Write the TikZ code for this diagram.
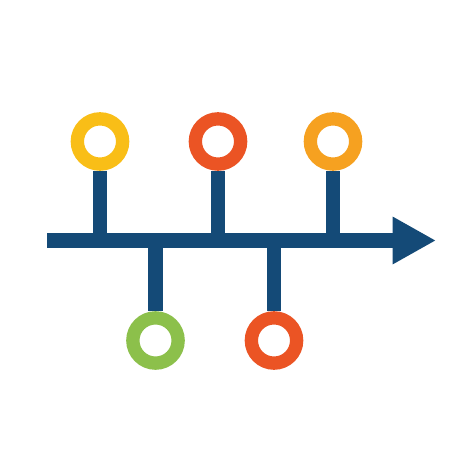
\documentclass[tikz,border=0pt]{standalone}
\usepackage{tikz}
\usetikzlibrary{arrows.meta}
\definecolor{navy}{HTML}{144A77}
\definecolor{sun}{HTML}{F9BE17}
\definecolor{brick}{HTML}{EB5424}
\definecolor{amber}{HTML}{F6A120}
\definecolor{leaf}{HTML}{8CC04B}
\tikzset{ring/.style={circle,draw=#1,fill=white,line width=6.65pt,minimum size=22.65pt,inner sep=0pt,outer sep=3.3pt}}
\tikzset{stem/.style={draw=navy,line width=7.25pt}}

\begin{document}
\begin{tikzpicture}[x=0.5pt,y=-0.5pt]
      \fill[white] (0,0) rectangle (474,474);
      \coordinate (L) at (47,240.5);
      \coordinate (R) at (436,240.5);
      \node[ring=sun] (a) at (100,141.5) {};
      \node[ring=brick] (b) at (218,141.5) {};
      \node[ring=amber] (c) at (333,141.5) {};
      \node[ring=leaf] (d) at (155.5,340.5) {};
      \node[ring=brick] (e) at (274,340.5) {};
        \draw[stem] (a) -- (a |- L);
        \draw[stem] (b) -- (b |- L);
        \draw[stem] (c) -- (c |- L);
        \draw[stem] (d) -- (d |- L);
        \draw[stem] (e) -- (e |- L);
        \draw[navy,line width=7.5pt,-{Triangle[length=21.65pt,width=22.2pt]}] (L) -- (R);
    \end{tikzpicture}
\end{document}
